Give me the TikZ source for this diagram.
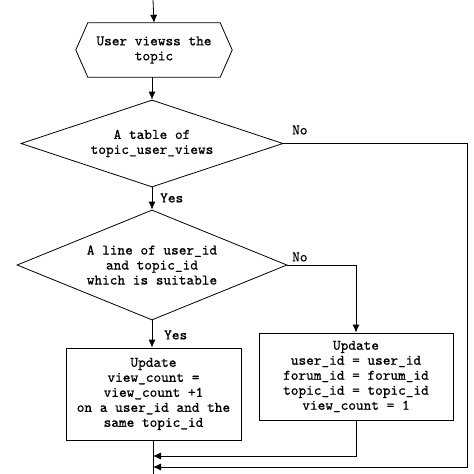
\documentclass[tikz,border=0pt]{standalone}
\usepackage{fontspec}
\newfontfamily\cour[FakeBold=0.7]{lmmono10-regular.otf}
\usetikzlibrary{shapes.geometric,arrows.meta}
\tikzset{
  x=1pt,y=-1pt,
  every node/.style={font=\cour\fontsize{14.6}{15}\selectfont},
  ln/.style={line width=0.8pt,draw=black},
  arr/.style={ln,-{Latex[length=8pt,width=7pt]}},
  dia/.style={diamond,draw,line width=0.8pt,inner sep=0pt,align=center},
  boxx/.style={rectangle,draw,line width=0.8pt,align=center,inner sep=0pt},
  lbl/.style={inner sep=0pt}
}
\begin{document}
\begin{tikzpicture}
\useasboundingbox[fill=white] (0,0) rectangle (474,474);
% hexagon
\node[minimum width=156pt,minimum height=54pt,inner sep=0pt,align=center] (hex) at (154,50) {User viewss the\\topic};
\draw[ln] (hex.west) -- ([xshift=12pt]hex.north west) -- ([xshift=-12pt]hex.north east) -- (hex.east) -- ([xshift=-12pt]hex.south east) -- ([xshift=12pt]hex.south west) -- cycle;
% decisions
\node[dia,aspect=3,minimum width=262pt,minimum height=87pt] (d1) at (152,143.5) {A table of\\topic\_user\_views};
\node[dia,aspect=2.45,minimum width=270pt,minimum height=110pt] (d2) at (152,265) {A line of user\_id\\and topic\_id\\which is suitable};
% boxes
\node[boxx,minimum width=175pt,minimum height=92pt] (b1) at (153.5,394) {Update\\view\_count =\\view\_count +1\\on a user\_id and the\\same topic\_id};
\node[boxx,minimum width=194pt,minimum height=87pt] (b2) at (356,376.5) {Update\\user\_id = user\_id\\forum\_id = forum\_id\\topic\_id = topic\_id\\view\_count = 1};
% coordinates
\coordinate (top) at (153,0);
\coordinate (bot) at (153,474);
\coordinate (r1) at (467,143.5);
\coordinate (m1) at (153,456);
\coordinate (m2) at (153,467);
% connectors
\draw[arr] (top) -- (hex.north);
\draw[arr] (hex.south -| d1.north) -- (d1.north);
\draw[arr] (d1.south) -- (d2.north);
\draw[arr] (d2.south) -- (d2.south |- b1.north);
\draw[arr] (d2.east) -| (b2.north);
\draw[arr] (d1.east) -- (r1) |- (m2);
\draw[arr] (b2.south) |- (m1);
\draw[ln] (b1.south -| top) -- (bot);
% labels
\node[lbl,anchor=west] at (292,130) {No};
\node[lbl,anchor=west] at (292,257) {No};
\node[lbl,anchor=west] at (160,198) {Yes};
\node[lbl,anchor=west] at (164,335) {Yes};
\end{tikzpicture}
\end{document}
